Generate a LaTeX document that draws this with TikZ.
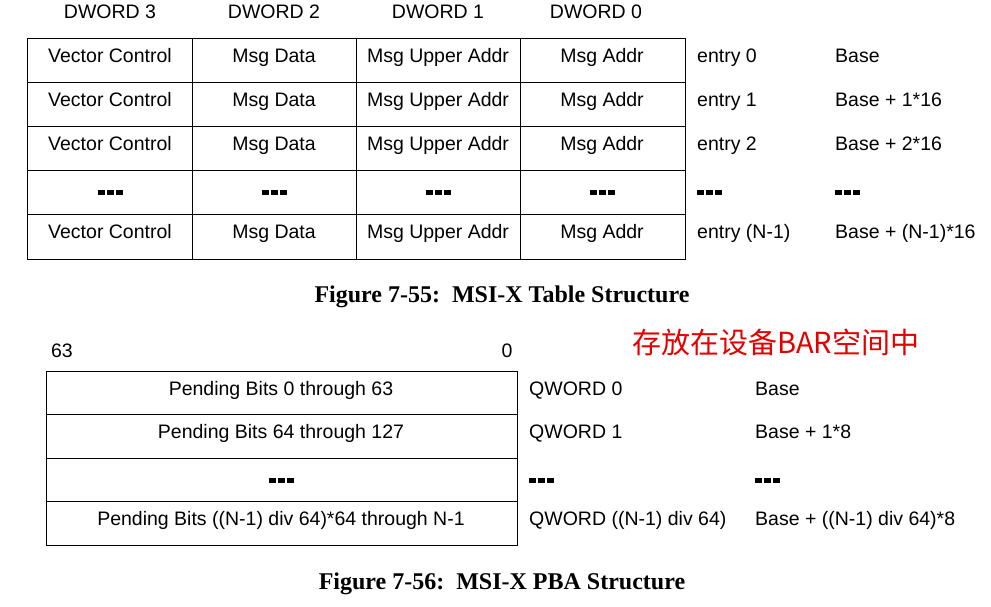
\documentclass[tikz,border=0pt]{standalone}
\usepackage{fontspec}
\setmainfont{Liberation Sans}
\newfontfamily\capfont{Liberation Serif}
\newfontfamily\cjk{Noto Sans CJK SC}
\newcommand{\dotsq}{\rule{7pt}{5pt}\hspace{2pt}\rule{7pt}{5pt}\hspace{2pt}\rule{7pt}{5pt}}
\begin{document}
\begin{tikzpicture}[x=1pt,y=-1pt,
  txt/.style={font=\fontsize{19.5}{22}\selectfont, inner sep=0pt, text height=1.45ex, text depth=0.35ex},
  lbl/.style={txt, anchor=west},
  figcap/.style={font=\capfont\bfseries\fontsize{24}{28}\selectfont, inner sep=0pt},
  cell/.style={draw=black, line width=1pt}]
\useasboundingbox (0,0) rectangle (991,606);
% headers
\node[txt] (h3) at (110,16) {DWORD 3};
\node[txt] (h2) at (274,16) {DWORD 2};
\node[txt] (h1) at (438,16) {DWORD 1};
\node[txt] (h0) at (596,16) {DWORD 0};
% table
\foreach \r/\ya/\yb in {0/38/82,1/82/126,2/126/170,3/170/214,4/214/259}{
  \foreach \c/\xa/\xb in {3/27/192,2/192/356,1/356/520,0/520/685}{
    \draw[cell] (\xa,\ya) rectangle (\xb,\yb);
  }
}
\foreach \r/\y in {0/60,1/104,2/148,4/236}{
  \node[txt] (vc\r) at (110,\y) {Vector Control};
  \node[txt] (md\r) at (274,\y) {Msg Data};
  \node[txt] (mu\r) at (438,\y) {Msg Upper Addr};
  \node[txt] (ma\r) at (602,\y) {Msg Addr};
}
\foreach \x/\n in {110/a,274/b,438/c,602/d}{ \node[txt] (dt\n) at (\x,192) {\dotsq}; }
\node[lbl] (e0) at (697,60) {entry 0};
\node[lbl] (e1) at (697,104) {entry 1};
\node[lbl] (e2) at (697,148) {entry 2};
\node[lbl] (e3) at (697,192) {\dotsq};
\node[lbl] (e4) at (697,236) {entry (N-1)};
\node[lbl] (b0) at (835,60) {Base};
\node[lbl] (b1) at (835,104) {Base + 1*16};
\node[lbl] (b2) at (835,148) {Base + 2*16};
\node[lbl] (b3) at (835,192) {\dotsq};
\node[lbl] (b4) at (835,236) {Base + (N-1)*16};
\node[figcap] (c1) at (502,297) {Figure 7-55:\ \ MSI-X Table Structure};
\node[inner sep=0pt, text=red!90!black, font=\cjk\fontsize{29}{32}\selectfont, anchor=west] (red) at (632,342) {存放在设备BAR空间中};
% PBA
\node[txt] (b63) at (62,355) {63};
\node[txt] (bz) at (507,355) {0};
\foreach \ya/\yb in {371/414,414/458,458/501,501/545}{ \draw[cell] (46,\ya) rectangle (517,\yb); }
\node[txt] (p0) at (281,393) {Pending Bits 0 through 63};
\node[txt] (p1) at (281,436) {Pending Bits 64 through 127};
\node[txt] (p2) at (281,480) {\dotsq};
\node[txt] (p3) at (281,523) {Pending Bits ((N-1) div 64)*64 through N-1};
\node[lbl] (q0) at (529,393) {QWORD 0};
\node[lbl] (q1) at (529,436) {QWORD 1};
\node[lbl] (q2) at (529,480) {\dotsq};
\node[lbl] (q3) at (529,523) {QWORD ((N-1) div 64)};
\node[lbl] (r0) at (755,393) {Base};
\node[lbl] (r1) at (755,436) {Base + 1*8};
\node[lbl] (r2) at (755,480) {\dotsq};
\node[lbl] (r3) at (755,523) {Base + ((N-1) div 64)*8};
\node[figcap] (c2) at (502,584) {Figure 7-56:\ \ MSI-X PBA Structure};
\end{tikzpicture}
\end{document}
